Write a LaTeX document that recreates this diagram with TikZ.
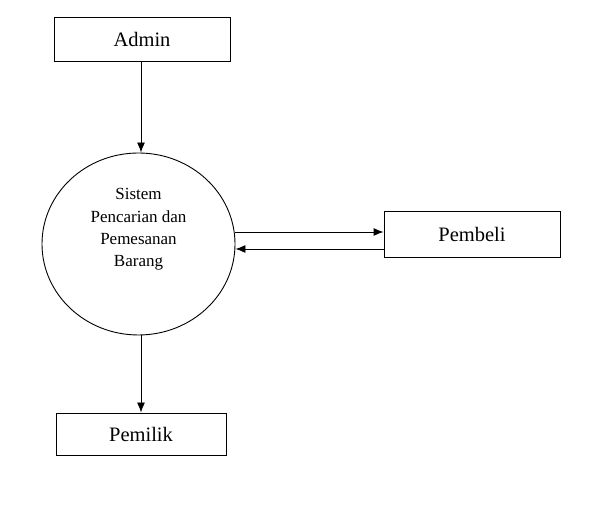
\documentclass[tikz,border=0pt]{standalone}
\usepackage{fontspec}
\setmainfont{Liberation Serif}
\usetikzlibrary{shapes.geometric, arrows.meta}
\tikzstyle{entity} = [rectangle, minimum height=44pt, text centered, draw=black, line width=0.9pt, font=\fontsize{20.5}{24}\selectfont]
\tikzstyle{process} = [ellipse, minimum width=193pt, minimum height=182pt, draw=black, line width=0.9pt]
\tikzstyle{arrow} = [line width=0.9pt,-{Latex[length=10pt,width=8pt]}]

\begin{document}
\begin{tikzpicture}[x=1pt, y=1pt]
\useasboundingbox (0,0) rectangle (596,505);

\node (admin) [entity, minimum width=176pt] at (142,466) {Admin};

\node (sistem) [process] at (138.5,261) {};
\node (sistemtext) [align=center, font=\fontsize{17}{22.3}\selectfont] at ([yshift=14.5pt]sistem.center) {Sistem\\Pencarian dan\\Pemesanan\\Barang};

\node (pembeli) [entity, minimum width=176pt, minimum height=46pt] at (472,271) {Pembeli};

\node (pemilik) [entity, minimum width=170pt, minimum height=42pt] at (141,71) {Pemilik};

\draw [arrow] (admin.south -| 141,0) -- (141,0 |- sistem.north);
\draw [arrow] (sistem.east |- 0,273) -- (pembeli.west |- 0,273);
\draw [arrow] (pembeli.west |- 0,256) -- (sistem.east |- 0,256);
\draw [arrow] (141,0 |- sistem.south) -- (pemilik.north);
\end{tikzpicture}
\end{document}
